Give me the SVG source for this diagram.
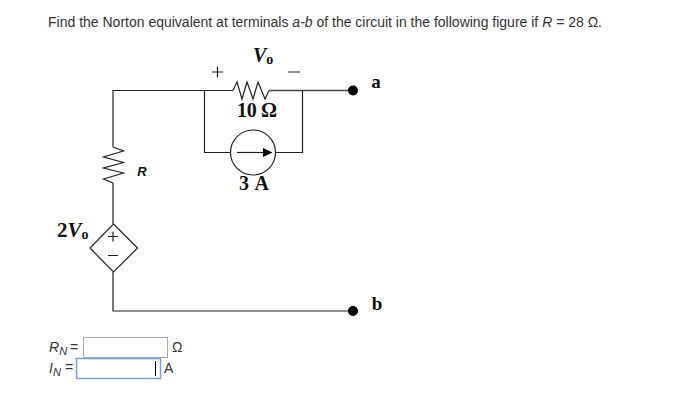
<svg xmlns="http://www.w3.org/2000/svg" width="687" height="404" viewBox="0 0 687 404">
<style>
.w{fill:none;stroke:#222;stroke-width:1.2}
.s{font-family:"Liberation Sans",Arial,sans-serif;font-size:14px;fill:#333}
.t{font-family:"Liberation Serif","Times New Roman",serif;fill:#111;font-weight:bold}
.d{fill:#000}
</style>
<rect width="687" height="404" fill="#fff"/>
<text class="s" x="48" y="27" textLength="554" lengthAdjust="spacing">Find the Norton equivalent at terminals <tspan font-style="italic">a-b</tspan> of the circuit in the following figure if <tspan font-style="italic">R</tspan> = 28 Ω.</text>
<g id="connectors">
<path class="w" d="M113 147V90.500H233"/>
<path class="w" d="M269 90.500H353" style="stroke:#444;stroke-width:1.500"/>
<path class="w" d="M204.500 90.500V152.500H231M275 152.500H302.500V90.500"/>
<path class="w" d="M113 183V224M113 272V311H353"/>
</g>
<g id="resistor-10"><path class="w" d="M233 90.500L237 82L242 99L247 82L253 99L258 82L265 99L269 90.500"/>
<text class="t" x="237" y="117" font-size="20" textLength="40">10 Ω</text></g>
<g id="resistor-r"><path class="w" d="M113 147L123.500 151L103.500 157L123.500 162.500L103.500 168L123.500 173L103.500 179L113 183"/>
<text x="142" y="176" font-family="Liberation Sans,Arial,sans-serif" font-size="13" font-weight="bold" font-style="italic" text-anchor="middle" fill="#111">R</text></g>
<g id="current-source"><circle class="w" cx="253" cy="152.500" r="22.500" fill="#fff"/>
<path class="w" d="M237 152.500H265"/><path class="d" d="M263 148L272.500 152.500L263 157Z"/>
<text class="t" x="239" y="190" font-size="20" textLength="30">3 A</text></g>
<g id="vo-label"><text x="253" y="62" font-family="Liberation Serif,serif" font-size="20" font-weight="bold" font-style="italic" fill="#111">V<tspan font-size="14" font-style="normal" dx="0" dy="2">o</tspan></text>
<path class="w" d="M212 72H223M217.500 66.500V77.500M288 72H300"/></g>
<g id="dep-source"><path class="w" d="M113.500 224L137.500 248L113.500 272L90 248Z" fill="#fff"/>
<path class="w" d="M108 236.500H118M113 231.500V241.500M108 255.500H118"/>
<text x="57" y="237" font-family="Liberation Serif,serif" font-size="21" font-weight="bold" fill="#111">2<tspan font-style="italic">V</tspan><tspan font-size="14" dy="2">o</tspan></text></g>
<g id="terminal-a"><circle class="d" cx="353" cy="90.500" r="5"/><text class="t" x="376" y="88" font-size="19" text-anchor="middle">a</text></g>
<g id="terminal-b"><circle class="d" cx="353" cy="311" r="5"/><text class="t" x="377" y="310" font-size="19" text-anchor="middle">b</text></g>
<g id="rn-input"><text class="s" x="49" y="352" font-style="italic">R<tspan font-size="11" dy="3">N</tspan></text><text class="s" x="70" y="352">=</text>
<rect x="83.500" y="337.500" width="84" height="20" fill="#fff" stroke="#aaa" stroke-width="1"/><text class="s" x="172" y="352">Ω</text></g>
<g id="in-input"><text class="s" x="49" y="373" font-style="italic">I<tspan font-size="11" dy="3">N</tspan></text><text class="s" x="65" y="372">=</text>
<rect x="76.500" y="358.500" width="84" height="20" fill="#fff" stroke="#7d9fdc" stroke-width="1.500"/><path d="M155.500 361V376" stroke="#000"/><text class="s" x="164" y="373">A</text></g>
</svg>
